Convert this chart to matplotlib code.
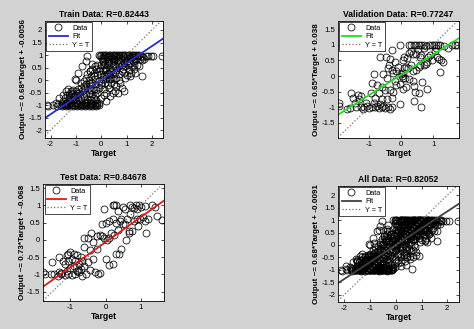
import matplotlib.pyplot as plt
import numpy as np

plt.rcParams["font.family"] = ["Liberation Sans", "DejaVu Sans"]

# regression panels: (x = Target, y = Output)
train_pts = [
    (-0.1, 1.0), (-0.05, 0.98), (0.0, 1.0), (0.05, 1.0), (0.1, 0.97), (0.15, 1.0), (0.2, 1.0),
    (0.25, 0.98), (0.3, 1.0), (0.35, 1.0), (0.4, 0.97), (0.45, 1.0), (0.5, 1.0), (0.55, 0.98),
    (0.6, 1.0), (0.65, 1.0), (0.7, 0.97), (0.75, 1.0), (0.8, 1.0), (0.85, 0.98), (0.9, 1.0),
    (0.95, 1.0), (1.0, 0.97), (1.05, 1.0), (1.1, 1.0), (1.15, 0.98), (1.2, 1.0), (1.25, 1.0),
    (1.3, 0.97), (1.35, 1.0), (1.4, 1.0), (1.45, 0.95), (1.5, 1.0), (1.55, 0.95), (1.65, 0.92),
    (1.75, 0.98), (1.85, 0.95), (1.95, 0.97), (2.05, 0.98), (2.4, 0.95),
    (0.02, 0.9), (0.12, 0.88), (0.22, 0.92), (0.32, 0.86), (0.42, 0.9), (0.52, 0.85), (0.62, 0.92),
    (0.72, 0.88), (0.82, 0.9), (0.92, 0.86), (1.02, 0.9), (1.12, 0.88), (1.22, 0.92), (1.32, 0.86),
    (1.42, 0.9), (1.52, 0.85), (1.6, 0.8), (1.7, 0.85),
    (0.05, 0.75), (0.1, 0.6), (0.15, 0.7), (0.2, 0.5), (0.25, 0.78), (0.3, 0.62), (0.35, 0.45),
    (0.4, 0.7), (0.45, 0.55), (0.5, 0.75), (0.55, 0.6), (0.6, 0.4), (0.65, 0.7), (0.7, 0.55),
    (0.75, 0.75), (0.8, 0.6), (0.85, 0.45), (0.9, 0.7), (0.95, 0.55), (1.0, 0.75), (1.05, 0.6),
    (1.1, 0.4), (1.15, 0.7), (1.2, 0.55), (1.25, 0.75), (1.3, 0.45), (1.4, 0.6), (1.5, 0.55),
    (1.6, 0.15), (1.35, 0.3), (1.0, 0.2), (0.9, 0.3), (0.8, 0.35), (0.7, 0.25), (0.55, 0.3),
    (0.45, 0.25), (0.35, 0.2), (0.25, 0.3), (0.15, 0.35), (0.05, 0.4), (1.12, 0.15), (0.95, 0.1),
    (-0.6, 0.1), (-0.55, 0.25), (-0.5, 0.0), (-0.45, 0.35), (-0.4, 0.15), (-0.35, -0.1), (-0.3, 0.3),
    (-0.25, 0.05), (-0.2, 0.45), (-0.15, 0.2), (-0.1, -0.05), (-0.05, 0.5), (0.0, 0.25), (0.05, 0.05),
    (0.1, 0.15), (0.15, -0.1), (0.2, 0.1), (0.25, -0.2), (0.3, 0.05), (-0.5, -0.3), (-0.4, -0.2),
    (-0.3, -0.35), (-0.2, -0.15), (-0.1, -0.3), (0.0, -0.2), (0.1, -0.35), (-0.6, -0.15), (-0.7, -0.05),
    (-0.15, 0.6), (-0.25, 0.55), (-0.35, 0.45), (0.0, 0.6), (0.2, 0.4), (0.3, 0.25), (0.4, 0.1),
    (0.5, 0.05), (0.6, 0.1), (0.7, 0.0), (0.4, -0.1),
    (-2.15, -1.0), (-2.1, -1.05), (-1.9, -1.0), (-1.8, -0.9), (-1.65, -0.7), (-1.5, -0.6), (-1.4, -0.45),
    (-1.3, -0.35), (-1.2, -0.5), (-1.05, 0.05), (-1.0, 0.0), (-0.9, 0.3), (-0.75, 0.55), (-0.6, 0.75),
    (-0.55, 0.95), (-0.45, 0.35), (-0.35, 0.65), (-0.8, -0.1),
    (0.0, -0.7), (0.1, -0.6), (0.2, -0.5), (0.35, -0.65), (0.45, -0.5), (0.55, -0.45), (0.65, -0.5),
    (0.8, -0.3), (0.9, -0.45), (0.6, -0.25), (0.3, -0.3), (0.2, -0.85), (-0.1, -0.9), (0.5, -0.15),
    (0.75, -0.1),
    (-1.5, -0.85), (-1.45, -0.7), (-1.4, -0.9), (-1.35, -0.6), (-1.3, -0.8), (-1.25, -0.7), (-1.2, -0.9),
    (-1.15, -0.55), (-1.1, -0.75), (-1.05, -0.6), (-1.0, -0.85), (-0.95, -0.5), (-0.9, -0.7),
    (-0.85, -0.6), (-0.8, -0.8), (-0.75, -0.45), (-0.7, -0.65), (-0.65, -0.35), (-0.6, -0.55),
    (-0.55, -0.75), (-0.5, -0.5), (-0.45, -0.65), (-0.4, -0.8), (-0.35, -0.55), (-0.3, -0.7),
    (-0.25, -0.6), (-0.2, -0.8), (-0.15, -0.5), (-1.1, -0.4), (-0.9, -0.35), (-0.8, -0.3),
    (-1.0, -0.45), (-1.2, -0.45),
    (-1.6, -1.0), (-1.55, -1.02), (-1.5, -1.0), (-1.45, -1.0), (-1.4, -1.02), (-1.35, -1.0), (-1.3, -1.0),
    (-1.25, -1.02), (-1.2, -1.0), (-1.15, -1.0), (-1.1, -1.02), (-1.05, -1.0), (-1.0, -1.0),
    (-0.95, -1.02), (-0.9, -1.0), (-0.85, -1.0), (-0.8, -1.02), (-0.75, -1.0), (-0.7, -1.0),
    (-0.65, -1.02), (-0.6, -1.0), (-0.55, -1.0), (-0.5, -1.02), (-0.45, -1.0), (-0.4, -1.0),
    (-0.35, -1.02), (-0.3, -1.0), (-0.25, -1.0), (-0.2, -1.02), (-0.15, -1.0), (-0.1, -0.98),
    (-1.55, -0.92), (-1.45, -0.95), (-1.35, -0.93), (-1.25, -0.92), (-1.15, -0.95), (-1.05, -0.92),
    (-0.95, -0.93), (-0.85, -0.92), (-0.75, -0.95), (-0.65, -0.92), (-0.55, -0.93), (-0.45, -0.92),
    (-0.35, -0.95), (-0.25, -0.92), (-0.15, -0.93),
    (0.08, 0.82), (0.28, 0.7), (0.48, 0.66), (0.68, 0.82), (0.88, 0.78), (1.08, 0.68), (1.28, 0.62),
    (1.18, 0.3), (0.6, 0.5), (0.38, 0.38), (-0.08, 0.35), (-0.28, 0.15), (-0.48, -0.12),
    (-0.68, -0.25), (-0.88, -0.5), (-1.08, -0.65), (-1.28, -0.6), (-0.62, -0.88), (-0.42, -0.4),
    (-0.22, -0.4), (-0.02, -0.1), (0.18, 0.2), (-1.7, -0.95), (-1.75, -1.02),
]

val_pts = [
    (0.25, 1.0), (0.32, 0.98), (0.4, 1.0), (0.47, 1.0), (0.55, 0.98), (0.62, 1.0), (0.7, 1.0),
    (0.78, 0.97), (0.88, 1.0), (0.95, 1.0), (1.02, 1.0), (1.08, 0.98), (1.15, 1.0), (1.22, 1.0),
    (1.35, 0.95), (1.58, 1.0), (1.68, 1.0), (1.75, 1.0),
    (-0.05, 1.0), (-0.3, 0.82), (-0.48, 0.62), (-0.65, 0.6), (-0.36, 0.55), (-0.2, 0.45), (-0.1, 0.3),
    (0.05, 0.5), (0.1, 0.62), (0.18, 0.58), (0.25, 0.75), (0.3, 0.8), (0.38, 0.7), (0.45, 0.72),
    (0.52, 0.85), (0.58, 0.6), (0.63, 0.68), (0.72, 0.9), (0.85, 0.62), (0.9, 0.68), (0.95, 0.5),
    (1.05, 0.8), (1.12, 0.6), (1.18, 0.55), (1.25, 0.5), (1.3, 0.45), (1.45, 0.9), (1.2, 0.12),
    (1.1, 0.9), (0.82, 0.45),
    (-0.38, 0.35), (-0.42, 0.25), (-0.3, 0.2), (-0.25, 0.1), (-0.15, 0.15), (0.0, 0.05), (0.02, 0.0),
    (0.05, 0.1), (0.1, 0.25), (0.15, 0.3), (0.2, 0.25), (0.3, 0.35), (0.38, 0.15), (0.45, 0.2),
    (0.55, 0.28), (0.6, 0.35), (0.7, 0.35), (0.78, 0.4), (-0.85, 0.08), (-0.55, 0.05), (-0.45, -0.05),
    (-0.2, -0.15), (0.12, -0.05), (0.25, -0.1), (0.05, -0.05),
    (-0.9, -0.22), (-0.75, -0.3), (-0.6, -0.35), (-0.5, -0.45), (-0.35, -0.45), (-0.25, -0.5),
    (-0.15, -0.3), (-0.05, -0.25), (0.05, -0.4), (0.15, -0.35), (0.38, -0.15), (0.4, -0.32),
    (0.42, -0.5), (0.55, -0.55), (0.8, -0.42), (0.65, -0.2), (-0.7, -0.55), (-0.8, -0.7),
    (-0.6, -0.75), (-0.45, -0.75), (-0.3, -0.7), (0.4, -0.8), (0.62, -0.98), (-0.05, -0.9),
    (-1.95, -0.85), (-1.95, -0.95), (-1.55, -0.55), (-1.5, -0.7), (-1.6, -1.02), (-1.45, -0.85),
    (-1.4, -1.0), (-1.35, -0.6), (-1.3, -0.75), (-1.25, -1.0), (-1.2, -1.05), (-1.15, -1.0),
    (-1.1, -0.85), (-1.05, -0.95), (-1.0, -1.02), (-0.95, -0.55), (-0.9, -1.0), (-0.85, -0.88),
    (-0.8, -1.0), (-0.75, -0.95), (-0.7, -1.02), (-0.65, -0.9), (-0.6, -1.0), (-0.55, -0.95),
    (-0.5, -1.02), (-0.4, -1.0), (-0.35, -1.05), (-0.3, -1.0), (-1.7, -1.05), (-1.25, -0.65),
]

test_pts = [
    (0.2, 1.0), (0.25, 1.0), (0.3, 1.0), (0.5, 0.95), (0.55, 0.9), (0.7, 1.0), (0.75, 0.95),
    (0.8, 0.92), (0.85, 1.0), (0.9, 0.9), (0.95, 1.0), (1.0, 0.95), (1.1, 0.98), (1.3, 1.0),
    (1.4, 0.95), (1.45, 0.7), (1.6, 0.58), (-0.05, 0.9), (0.35, 0.85),
    (-0.1, 0.45), (0.0, 0.5), (0.1, 0.55), (0.2, 0.6), (0.3, 0.5), (0.4, 0.55), (0.45, 0.6),
    (0.5, 0.45), (0.6, 0.6), (0.7, 0.75), (0.8, 0.55), (0.88, 0.6), (0.92, 0.4), (0.98, 0.6),
    (1.05, 0.65), (1.1, 0.55), (1.2, 0.6), (1.15, 0.2), (0.65, 0.25), (0.75, 0.25), (0.55, 0.45),
    (0.35, 0.3),
    (-0.6, 0.05), (-0.5, 0.05), (-0.35, -0.05), (-0.25, 0.1), (-0.15, 0.15), (-0.1, 0.1),
    (-0.05, 0.05), (0.05, 0.0), (0.1, 0.05), (0.15, 0.2), (0.25, 0.15), (-0.4, 0.2), (-0.6, -0.2),
    (-0.45, -0.3), (-0.25, -0.25), (0.0, -0.55), (0.3, -0.4), (0.38, -0.4), (0.45, -0.25),
    (0.58, 0.0), (0.65, 0.2), (0.2, -0.7), (0.1, -0.72), (-0.35, -0.55), (-0.5, -0.65),
    (-1.3, -0.5), (-1.1, -0.45), (-1.05, -0.4), (-1.0, -0.35), (-0.9, -0.4), (-0.8, -0.45),
    (-0.7, -0.5), (-1.2, -0.6), (-1.15, -0.7), (-1.05, -0.6), (-0.95, -0.55), (-0.85, -0.6),
    (-0.75, -0.7), (-0.65, -0.6), (-0.6, -0.75), (-0.7, -0.85), (-0.8, -0.9), (-0.9, -0.75),
    (-1.0, -0.8), (-1.1, -0.9), (-1.25, -0.95), (-1.5, -0.65), (-1.75, -0.92), (-1.7, -1.0),
    (-1.55, -1.0), (-1.45, -1.0), (-1.35, -1.05), (-1.25, -1.0), (-1.15, -1.02), (-1.05, -1.0),
    (-0.95, -1.02), (-0.85, -1.0), (-0.75, -0.92), (-0.65, -1.05), (-0.55, -1.0), (-0.45, -0.88),
    (-0.3, -0.92), (-0.2, -1.0), (-0.15, -0.95), (-0.78, -0.88), (-1.3, -0.92),
]

titles = ["Train Data: R=0.82443", "Validation Data: R=0.77247",
          "Test Data: R=0.84678", "All Data: R=0.82052"]
slopes = [0.68, 0.65, 0.73, 0.68]
intercepts = [-0.0056, 0.038, -0.068, -0.0091]
ylabels = ["Output ~= 0.68*Target + -0.0056", "Output ~= 0.65*Target + 0.038",
           "Output ~= 0.73*Target + -0.068", "Output ~= 0.68*Target + -0.0091"]
fit_colors = ["#2a2ad0", "#22dd22", "#e01818", "#404040"]
limits = [(-2.22, 2.44), (-1.97, 1.8), (-1.76, 1.65), (-2.25, 2.45)]
ylimits = [(-2.31, 2.37), (-1.98, 1.77), (-1.77, 1.62), (-2.3, 2.38)]
xticks = [[-2, -1, 0, 1, 2], [-1, 0, 1], [-1, 0, 1], [-2, -1, 0, 1, 2]]
yticks = [np.arange(-2, 2.01, 0.5), np.arange(-1.5, 1.51, 0.5),
          np.arange(-1.5, 1.51, 0.5), np.arange(-2, 2.01, 0.5)]
positions = [
    [0.095, 0.581, 0.249, 0.356],
    [0.713, 0.581, 0.255, 0.356],
    [0.091, 0.085, 0.255, 0.356],
    [0.713, 0.082, 0.255, 0.353],
]

datasets = [np.array(train_pts), np.array(val_pts), np.array(test_pts)]
datasets.append(np.concatenate(datasets))

fig = plt.figure(figsize=(4.74, 3.29), dpi=100, facecolor="#d2d2d2")
for i in range(4):
    ax = fig.add_axes(positions[i])
    pts = datasets[i]
    x0, x1 = limits[i]
    ax.plot(pts[:, 0], pts[:, 1], "o", mfc="none", mec="black", ms=5.0, mew=0.55, label="Data")
    xx = np.array([x0, x1])
    ax.plot(xx, slopes[i] * xx + intercepts[i], color=fit_colors[i], lw=1.3, label="Fit")
    ax.plot(xx, xx, ls=":", color="#707070", lw=0.9, label="Y = T")
    ax.set_xlim(x0, x1)
    ax.set_ylim(*ylimits[i])
    ax.set_xticks(xticks[i])
    ax.set_yticks(yticks[i])
    ax.set_xticklabels([f"{v:g}" for v in xticks[i]])
    ax.set_yticklabels([f"{v:g}" for v in yticks[i]])
    ax.tick_params(direction="in", length=2.5, width=0.5, labelsize=5.6, pad=2,
                   top=True, right=True)
    for sp in ax.spines.values():
        sp.set_linewidth(0.6)
    ax.set_title(titles[i], fontsize=6.2, fontweight="bold", pad=3)
    ax.set_xlabel("Target", fontsize=6.2, fontweight="bold", labelpad=1)
    ax.set_ylabel(ylabels[i], fontsize=5.8, fontweight="bold", labelpad=1)
    leg = ax.legend(loc="upper left", fontsize=5.2, frameon=True, fancybox=False,
                    edgecolor="black", borderpad=0.35, handlelength=2.6, handletextpad=0.6,
                    labelspacing=0.2, borderaxespad=0.2, framealpha=1)
    leg.get_frame().set_linewidth(0.5)

fig.savefig("out.png", dpi=100, facecolor=fig.get_facecolor())
